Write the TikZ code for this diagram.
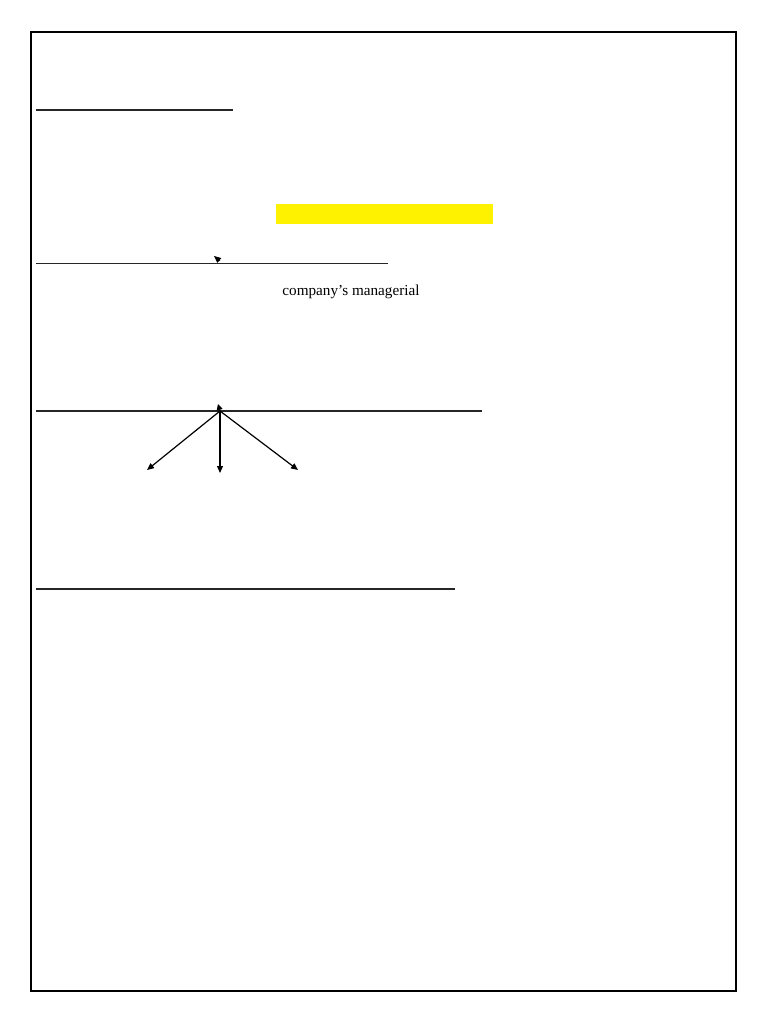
\documentclass[tikz,border=0pt]{standalone}
\usepackage{fontspec}
\setmainfont{Liberation Serif}
\usetikzlibrary{arrows.meta}
\begin{document}
\begin{tikzpicture}[x=1pt,y=-1pt,
  rule/.style={line width=2pt,black!85},
  thinrule/.style={line width=0.9pt,black!85},
  arr/.style={line width=1.2pt,-{Triangle[length=7pt,width=6pt]}}]
\useasboundingbox (0,0) rectangle (768,1024);
\draw[line width=2pt] (31,32) rectangle (736,991);
\draw[rule] (36,110) -- (233,110);
\fill[yellow] (276,204) rectangle (493,224);
\draw[thinrule] (36,263) -- (388,263);
\coordinate (h1) at (220,261);
\coordinate (h0) at (214,256);
\draw[-{Triangle[length=7pt,width=6pt]},line width=0.6pt] (h1) -- (h0);
\node[font=\fontsize{15.2}{18}\selectfont,inner sep=0pt] (t) at (351,292) {company’s managerial};
\draw[rule] (36,411) -- (482,411);
\coordinate (o) at (220,411);
\coordinate (top) at (218,404);
\coordinate (a) at (147,470);
\coordinate (b) at (220,473);
\coordinate (c) at (298,470);
\draw[-{Triangle[length=6pt,width=6pt]},line width=0.8pt] (o) -- (top);
\draw[arr] (o) -- (a);
\draw[arr] (o) -- (b);
\draw[arr] (o) -- (c);
\draw[rule] (36,589) -- (455,589);
\end{tikzpicture}
\end{document}
